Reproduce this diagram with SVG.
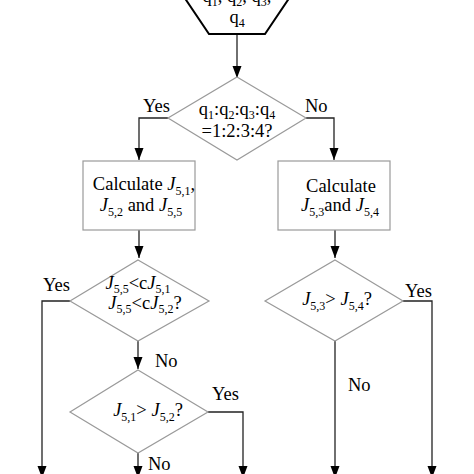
<svg xmlns="http://www.w3.org/2000/svg" width="474" height="474" viewBox="0 0 474 474">
<defs>
<marker id="ah" markerUnits="userSpaceOnUse" markerWidth="13" markerHeight="10" viewBox="0 0 13 10" refX="12" refY="5" orient="auto">
<path d="M0,0.5 L12,5 L0,9.5 z" fill="#000"/>
</marker>
<style>
text{font-family:"Liberation Serif","Times New Roman",serif;font-size:18.5px;fill:#000}
.i{font-style:italic}
.s{font-size:12px}
.shape{fill:#fff;stroke:#9a9a9a;stroke-width:1.2}
.hex{fill:#fff;stroke:#000;stroke-width:2}
.c{fill:none;stroke:#222;stroke-width:1.3}
.a{marker-end:url(#ah)}
</style>
</defs>
<rect width="474" height="474" fill="#fff"/>
<g id="connectors">
<path class="c a" d="M237,34 V78"/>
<path class="c a" d="M168,118 H139 V160"/>
<path class="c a" d="M306,118 H334 V160"/>
<path class="c a" d="M139,230 V258"/>
<path class="c a" d="M335,230 V258"/>
<path class="c a" d="M70,301 H42 V478"/>
<path class="c a" d="M138,341 V369"/>
<path class="c a" d="M208,412 H243 V478"/>
<path class="c a" d="M138,453 V478"/>
<path class="c a" d="M403,301 H432 V478"/>
<path class="c a" d="M335,341 V478"/>
<text x="143" y="112">Yes</text>
<text x="305" y="112">No</text>
<text x="43" y="291">Yes</text>
<text x="155" y="367">No</text>
<text x="212" y="400">Yes</text>
<text x="148" y="470">No</text>
<text x="405" y="297">Yes</text>
<text x="348" y="391">No</text>
</g>
<g id="start">
<polygon class="hex" points="209,34 265,34 296,-12 265,-60 209,-60 178,-12"/>
<text x="237" y="2" text-anchor="middle">q<tspan class="s" dy="4">1</tspan><tspan dy="-4">, q</tspan><tspan class="s" dy="4">2</tspan><tspan dy="-4">, q</tspan><tspan class="s" dy="4">3</tspan><tspan dy="-4">,</tspan></text>
<text x="237" y="23" text-anchor="middle">q<tspan class="s" dy="4">4</tspan></text>
</g>
<g id="d1">
<polygon class="shape" points="237,77 306,118 237,160 168,118"/>
<text x="237" y="115" text-anchor="middle">q<tspan class="s" dy="4">1</tspan><tspan dy="-4">:q</tspan><tspan class="s" dy="4">2</tspan><tspan dy="-4">:q</tspan><tspan class="s" dy="4">3</tspan><tspan dy="-4">:q</tspan><tspan class="s" dy="4">4</tspan></text>
<text x="237" y="137" text-anchor="middle">=1:2:3:4?</text>
</g>
<g id="box1">
<rect class="shape" x="83" y="161" width="112" height="69"/>
<text x="144" y="190" text-anchor="middle">Calculate <tspan class="i">J</tspan><tspan class="s" dy="5">5,1</tspan><tspan dy="-5">,</tspan></text>
<text x="141" y="211" text-anchor="middle"><tspan class="i">J</tspan><tspan class="s" dy="5">5,2</tspan><tspan dy="-5"> and </tspan><tspan class="i">J</tspan><tspan class="s" dy="5">5,5</tspan></text>
</g>
<g id="box2">
<rect class="shape" x="278" y="161" width="112" height="69"/>
<text x="341" y="192" text-anchor="middle">Calculate</text>
<text x="340" y="211" text-anchor="middle"><tspan class="i">J</tspan><tspan class="s" dy="5">5,3</tspan><tspan dy="-5">and </tspan><tspan class="i">J</tspan><tspan class="s" dy="5">5,4</tspan></text>
</g>
<g id="d2">
<polygon class="shape" points="138,260 209,301 138,341 70,301"/>
<text x="138" y="289" text-anchor="middle"><tspan class="i">J</tspan><tspan class="s" dy="4">5,5</tspan><tspan dy="-4">&lt;c</tspan><tspan class="i">J</tspan><tspan class="s" dy="4">5,1</tspan></text>
<text x="145" y="309" text-anchor="middle"><tspan class="i">J</tspan><tspan class="s" dy="4">5,5</tspan><tspan dy="-4">&lt;c</tspan><tspan class="i">J</tspan><tspan class="s" dy="4">5,2</tspan><tspan dy="-4">?</tspan></text>
</g>
<g id="d3">
<polygon class="shape" points="138,370 208,412 138,453 70,412"/>
<text x="148" y="416" text-anchor="middle"><tspan class="i">J</tspan><tspan class="s" dy="5">5,1</tspan><tspan dy="-5">&gt; </tspan><tspan class="i">J</tspan><tspan class="s" dy="5">5,2</tspan><tspan dy="-5">?</tspan></text>
</g>
<g id="d4">
<polygon class="shape" points="335,260 403,301 335,341 265,301"/>
<text x="337" y="305" text-anchor="middle"><tspan class="i">J</tspan><tspan class="s" dy="5">5,3</tspan><tspan dy="-5">&gt; </tspan><tspan class="i">J</tspan><tspan class="s" dy="5">5,4</tspan><tspan dy="-5">?</tspan></text>
</g>
</svg>
